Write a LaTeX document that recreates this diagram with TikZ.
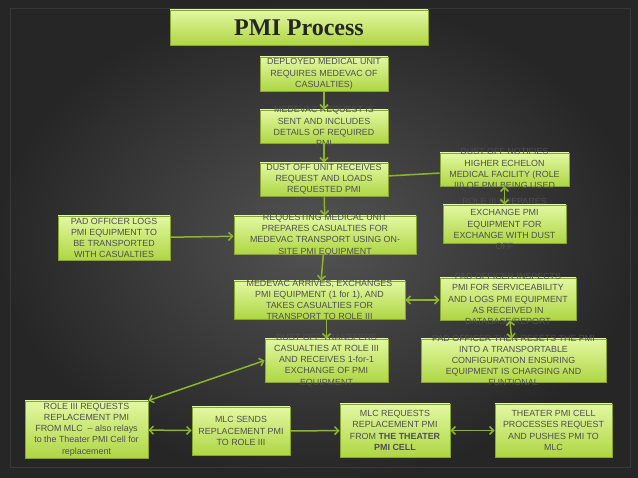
\documentclass[tikz,border=0pt]{standalone}
\usepackage{fontspec}
\setmainfont{Liberation Sans}
\newfontfamily\titlefont{Liberation Serif}
\usetikzlibrary{arrows.meta}
\definecolor{lime}{HTML}{D6F57A}
\definecolor{limedark}{HTML}{A8D03A}
\definecolor{txt}{HTML}{505050}
\definecolor{wire}{HTML}{8DB52A}
\tikzset{
 pbox/.style={draw=limedark!80!black, line width=0.8pt, inner sep=0pt, top color=lime!70!white, bottom color=limedark!85!lime},
 ptxt/.style={text=txt, font=\fontsize{8.9}{11.2}\selectfont, align=center, inner sep=0pt},
 con/.style={draw=wire, line width=1.5pt, -{Straight Barb[length=4pt,width=8pt]}},
 dcon/.style={draw=wire, line width=1.5pt, {Straight Barb[length=4pt,width=8pt]}-{Straight Barb[length=4pt,width=8pt]}},
 pln/.style={draw=wire, line width=1.5pt}
}
\newcommand{\pb}[6]{%
 \node[pbox, minimum width=#4pt-#2pt, minimum height=#5pt-#3pt] (#1) at ({(#2+#4)/2},{(#3+#5)/2}) {};
 \node[ptxt] at (#1) {#6};}
\begin{document}
\begin{tikzpicture}[x=1pt,y=-1pt]
\useasboundingbox (0,0) rectangle (638,478);
\shade[inner color=gray!65!black, outer color=black!85] (0,0) rectangle (638,478);
\draw[gray!45!black, line width=0.8pt] (10,8) rectangle (630,467);
\node[pbox, minimum width=258pt, minimum height=35pt] (title) at (299,27.5) {};
\node[font=\titlefont\bfseries\fontsize{24}{26}\selectfont, text=black!85] at (title) {PMI Process};
\pb{b1}{260}{57}{388}{91}{DEPLOYED MEDICAL UNIT\\REQUIRES MEDEVAC OF\\CASUALTIES)}
\pb{b2}{260}{110}{388}{143}{MEDEVAC REQUEST IS\\SENT AND INCLUDES\\DETAILS OF REQUIRED\\PMI}
\pb{b3}{260}{163}{388}{196}{DUST OFF UNIT RECEIVES\\REQUEST AND LOADS\\REQUESTED PMI}
\pb{b4}{234}{216}{416}{254}{REQUESTING MEDICAL UNIT\\PREPARES CASUALTIES FOR\\MEDEVAC TRANSPORT USING ON-\\SITE PMI EQUIPMENT}
\pb{b5}{234}{281}{405}{319}{MEDEVAC ARRIVES, EXCHANGES\\PMI EQUIPMENT (1 for 1), AND\\TAKES CASUALTIES FOR\\TRANSPORT TO ROLE III}
\pb{b6}{265}{339}{388}{382}{DUST OFF TRANSFERS\\CASUALTIES AT ROLE III\\AND RECEIVES 1-for-1\\EXCHANGE OF PMI\\EQUIPMENT}
\pb{h1}{440}{153}{569}{186}{DUST OFF NOTIFIES\\HIGHER ECHELON\\MEDICAL FACILITY (ROLE\\III) OF PMI BEING USED}
\pb{h2}{443}{205}{566}{243}{ROLE III PREPARES\\EXCHANGE PMI\\EQUIPMENT FOR\\EXCHANGE WITH DUST\\OFF}
\pb{p1}{440}{278}{576}{320}{PAD OFFICER INSPECTS\\PMI FOR SERVICEABILITY\\AND LOGS PMI EQUIPMENT\\AS RECEIVED IN\\DATABASE/REPORT}
\pb{p2}{421}{339}{606}{382}{PAD OFFICER THEN RESETS THE PMI\\INTO A TRANSPORTABLE\\CONFIGURATION ENSURING\\EQUIPMENT IS CHARGING AND\\FUNTIONAL}
\pb{pad}{58}{216}{170}{260}{PAD OFFICER LOGS\\PMI EQUIPMENT TO\\BE TRANSPORTED\\WITH CASUALTIES}
\pb{r3}{25}{401}{148}{458}{ROLE III REQUESTS\\REPLACEMENT PMI\\FROM MLC\ \ -- also relays\\to the Theater PMI Cell for\\replacement}
\pb{ms}{192}{407}{290}{455}{MLC SENDS\\REPLACEMENT PMI\\TO ROLE III}
\pb{mr}{340}{404}{450}{457}{MLC REQUESTS\\REPLACEMENT PMI\\FROM \textbf{THE THEATER}\\\textbf{PMI CELL}}
\pb{th}{495}{404}{612}{457}{THEATER PMI CELL\\PROCESSES REQUEST\\AND PUSHES PMI TO\\MLC}
\draw[con] (b1) -- (b2);
\draw[con] (b2) -- (b3);
\draw[con] (b3) -- (b4);
\draw[con] (b4) -- (b5);
\draw[con] (b5.south -| b6) -- (b6);
\draw[pln] (b3) -- (h1);
\draw[dcon] (h1) -- (h2);
\draw[con] (pad) -- (b4);
\draw[dcon] (b5) -- (p1.west |- b5);
\draw[dcon] (p1) -- (p2);
\draw[dcon] (b6.west) -- (r3.north east);
\draw[dcon] (r3) -- (ms);
\draw[con] (ms) -- (mr);
\draw[dcon] (mr) -- (th);
\end{tikzpicture}
\end{document}
